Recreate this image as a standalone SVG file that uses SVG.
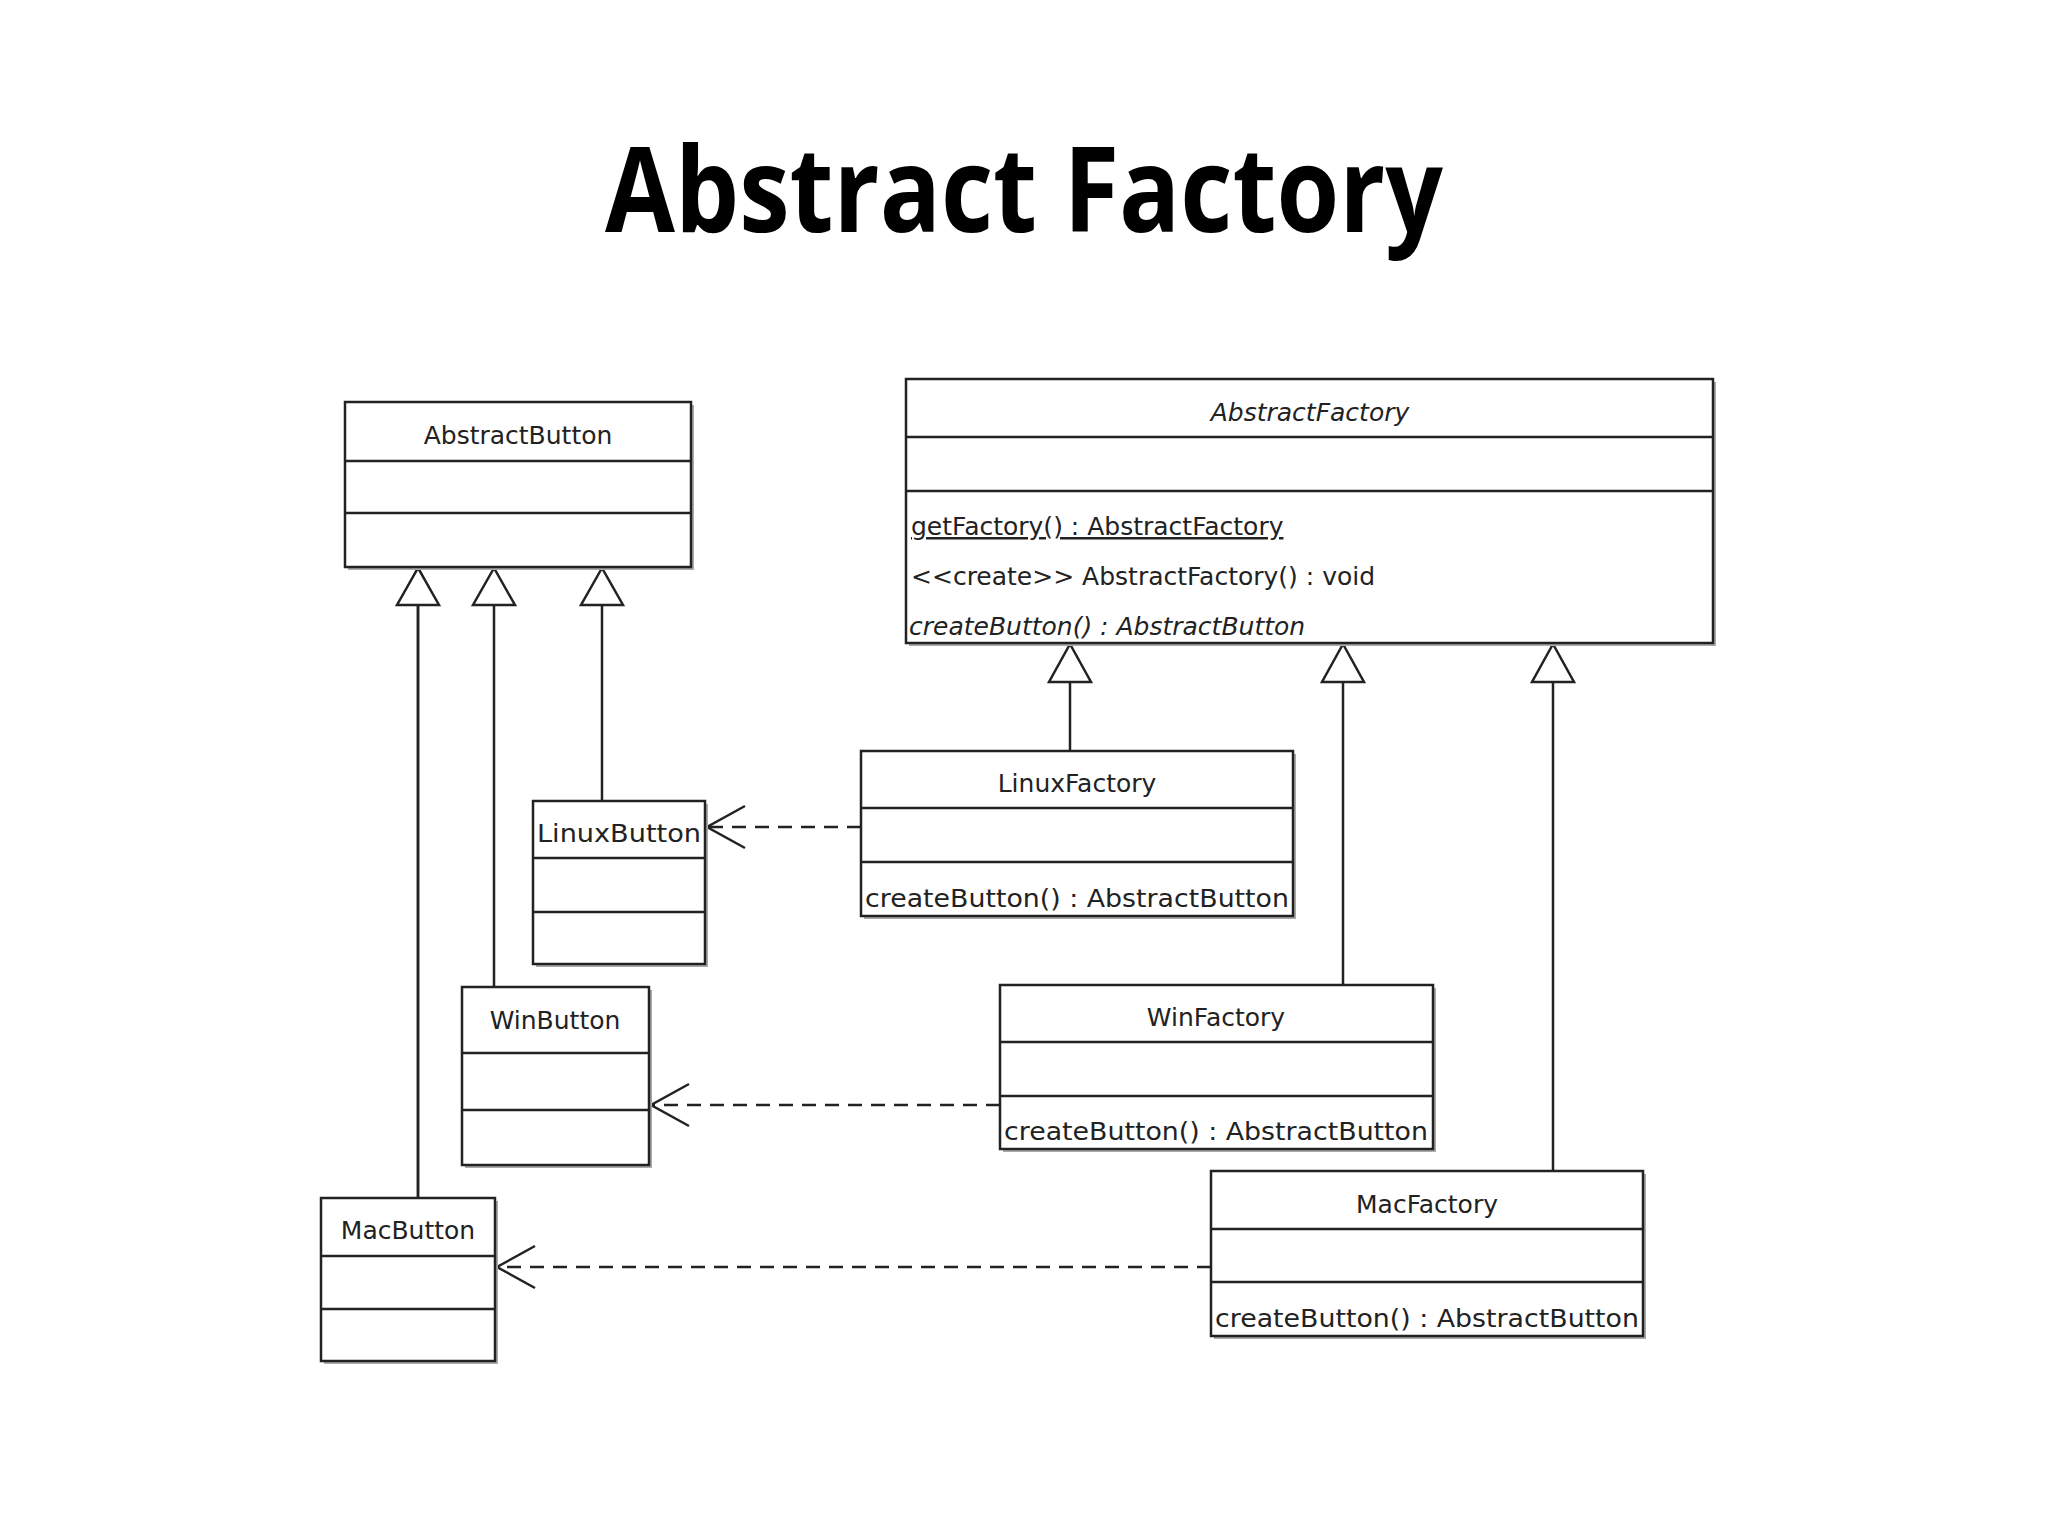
<svg xmlns="http://www.w3.org/2000/svg" width="2048" height="1536" viewBox="0 0 2048 1536">
<style>
.b{fill:#fff;stroke:#222;stroke-width:2.5}
.s{fill:#aaa}
.d{stroke:#222;stroke-width:2.5}
.t{font-family:"DejaVu Sans",sans-serif;font-size:25px;fill:#222}
.c{text-anchor:middle}
.g{stroke:#222;stroke-width:2.5;fill:none}
.dep{stroke:#222;stroke-width:2.5;fill:none;stroke-dasharray:14 9}
</style>
<defs>
<marker id="tri" markerWidth="46" markerHeight="42" refX="1" refY="21" orient="auto" markerUnits="userSpaceOnUse">
<path d="M38,21 L1,1 L1,41 Z" fill="#fff" stroke="#222" stroke-width="2.5"/>
</marker>
<marker id="open" markerWidth="44" markerHeight="46" refX="40" refY="23" orient="auto" markerUnits="userSpaceOnUse">
<path d="M2,2 L40,23 L2,44" fill="none" stroke="#222" stroke-width="2.5"/>
</marker>
</defs>
<rect width="2048" height="1536" fill="#fff"/>
<text x="1024" y="232" text-anchor="middle" font-family="'Open Sans',sans-serif" font-weight="bold" font-size="118" textLength="838" lengthAdjust="spacingAndGlyphs" fill="#000">Abstract Factory</text>

<g id="connectors">
<path class="g" d="M418,1198 V605" marker-end="url(#tri)" transform=""/>
<line class="g" x1="418" y1="1198" x2="418" y2="606"/>
<line class="g" x1="494" y1="987" x2="494" y2="606"/>
<line class="g" x1="602" y1="801" x2="602" y2="606"/>
<line class="g" x1="1070" y1="751" x2="1070" y2="682"/>
<line class="g" x1="1343" y1="985" x2="1343" y2="682"/>
<line class="g" x1="1553" y1="1171" x2="1553" y2="682"/>
<path d="M418,568 L397,605 L439,605 Z M494,568 L473,605 L515,605 Z M602,568 L581,605 L623,605 Z M1070,644 L1049,682 L1091,682 Z M1343,644 L1322,682 L1364,682 Z M1553,644 L1532,682 L1574,682 Z" fill="#fff" stroke="#222" stroke-width="2.5"/>
<line class="dep" x1="861" y1="827" x2="707" y2="827" marker-end="url(#open)"/>
<line class="dep" x1="1000" y1="1105" x2="651" y2="1105" marker-end="url(#open)"/>
<line class="dep" x1="1211" y1="1267" x2="497" y2="1267" marker-end="url(#open)"/>
</g>

<g id="AbstractButton">
<rect class="s" x="348" y="405" width="346" height="165"/>
<rect class="b" x="345" y="402" width="346" height="165"/>
<line class="d" x1="345" y1="461" x2="691" y2="461"/><line class="d" x1="345" y1="513" x2="691" y2="513"/>
<text class="t c" x="518" y="444">AbstractButton</text>
</g>
<g id="AbstractFactory">
<rect class="s" x="909" y="382" width="807" height="264"/>
<rect class="b" x="906" y="379" width="807" height="264"/>
<line class="d" x1="906" y1="437" x2="1713" y2="437"/><line class="d" x1="906" y1="491" x2="1713" y2="491"/>
<text class="t c" x="1310" y="421" font-style="italic">AbstractFactory</text>
<text class="t" x="911" y="535" text-decoration="underline">getFactory() : AbstractFactory</text>
<text class="t" x="911" y="585">&lt;&lt;create&gt;&gt; AbstractFactory() : void</text>
<text class="t" x="909" y="635" font-style="italic">createButton() : AbstractButton</text>
</g>
<g id="LinuxButton">
<rect class="s" x="536" y="804" width="172" height="163"/>
<rect class="b" x="533" y="801" width="172" height="163"/>
<line class="d" x1="533" y1="858" x2="705" y2="858"/><line class="d" x1="533" y1="912" x2="705" y2="912"/>
<text class="t c" x="619" y="842" textLength="164" lengthAdjust="spacingAndGlyphs">LinuxButton</text>
</g>
<g id="WinButton">
<rect class="s" x="465" y="990" width="187" height="178"/>
<rect class="b" x="462" y="987" width="187" height="178"/>
<line class="d" x1="462" y1="1053" x2="649" y2="1053"/><line class="d" x1="462" y1="1110" x2="649" y2="1110"/>
<text class="t c" x="555" y="1029">WinButton</text>
</g>
<g id="MacButton">
<rect class="s" x="324" y="1201" width="174" height="163"/>
<rect class="b" x="321" y="1198" width="174" height="163"/>
<line class="d" x1="321" y1="1256" x2="495" y2="1256"/><line class="d" x1="321" y1="1309" x2="495" y2="1309"/>
<text class="t c" x="408" y="1239">MacButton</text>
</g>
<g id="LinuxFactory">
<rect class="s" x="864" y="754" width="432" height="165"/>
<rect class="b" x="861" y="751" width="432" height="165"/>
<line class="d" x1="861" y1="808" x2="1293" y2="808"/><line class="d" x1="861" y1="862" x2="1293" y2="862"/>
<text class="t c" x="1077" y="792">LinuxFactory</text>
<text class="t" x="865" y="907" textLength="424" lengthAdjust="spacingAndGlyphs">createButton() : AbstractButton</text>
</g>
<g id="WinFactory">
<rect class="s" x="1003" y="988" width="433" height="164"/>
<rect class="b" x="1000" y="985" width="433" height="164"/>
<line class="d" x1="1000" y1="1042" x2="1433" y2="1042"/><line class="d" x1="1000" y1="1096" x2="1433" y2="1096"/>
<text class="t c" x="1216" y="1026">WinFactory</text>
<text class="t" x="1004" y="1140" textLength="424" lengthAdjust="spacingAndGlyphs">createButton() : AbstractButton</text>
</g>
<g id="MacFactory">
<rect class="s" x="1214" y="1174" width="432" height="165"/>
<rect class="b" x="1211" y="1171" width="432" height="165"/>
<line class="d" x1="1211" y1="1229" x2="1643" y2="1229"/><line class="d" x1="1211" y1="1282" x2="1643" y2="1282"/>
<text class="t c" x="1427" y="1213">MacFactory</text>
<text class="t" x="1215" y="1327" textLength="424" lengthAdjust="spacingAndGlyphs">createButton() : AbstractButton</text>
</g>
</svg>
